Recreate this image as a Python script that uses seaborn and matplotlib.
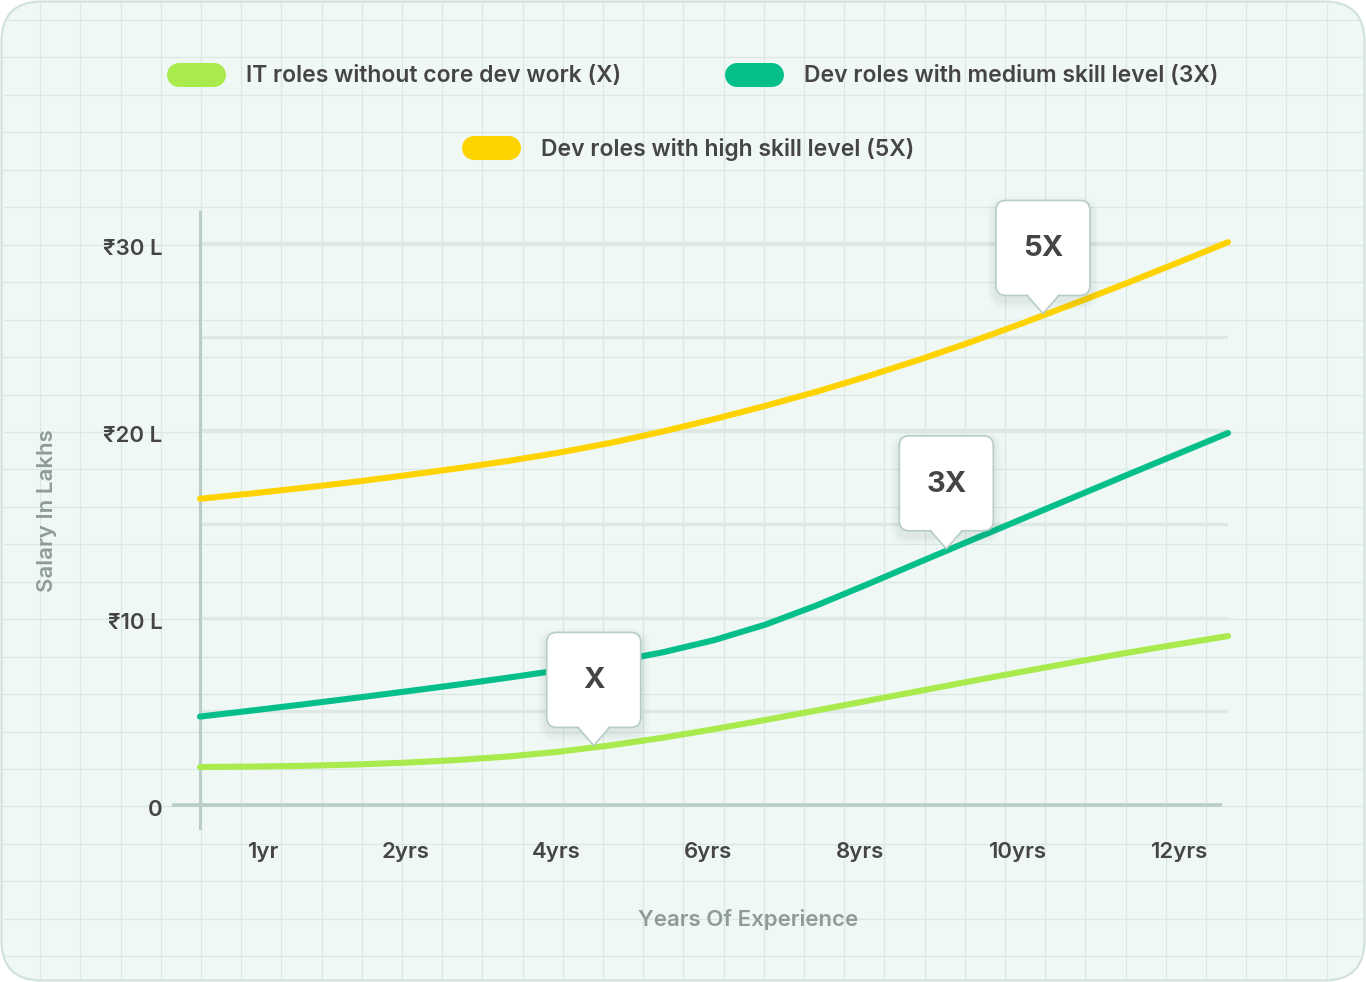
import numpy as np
import pandas as pd
import matplotlib
matplotlib.use("Agg")
import matplotlib.pyplot as plt
import matplotlib.transforms as mtransforms
import seaborn as sns
from matplotlib.patches import FancyBboxPatch, Polygon
from matplotlib.lines import Line2D

# ---------------- data ----------------
series_names = [
    "IT roles without core dev work (X)",
    "Dev roles with medium skill level (3X)",
    "Dev roles with high skill level (5X)",
]
callout_labels = ["X", "3X", "5X"]
series_colors = ["#a9ea4d", "#04bf8a", "#ffd300"]

# position along the x axis (0 = start, 100 = end of the chart)
x_position = [0, 5, 10, 15, 20, 25, 30, 35, 40, 45, 50,
              55, 60, 65, 70, 75, 80, 85, 90, 95, 100]
salary_it = [2.03, 2.05, 2.09, 2.16, 2.26, 2.40, 2.59, 2.85, 3.19, 3.59, 4.05,
             4.54, 5.05, 5.57, 6.09, 6.61, 7.12, 7.62, 8.11, 8.57, 9.02]
salary_medium = [4.72, 5.04, 5.37, 5.71, 6.06, 6.42, 6.80, 7.20, 7.63, 8.15, 8.80,
                 9.63, 10.66, 11.80, 12.97, 14.13, 15.28, 16.43, 17.58, 18.72, 19.86]
salary_high = [16.35, 16.63, 16.93, 17.25, 17.60, 17.97, 18.37, 18.82, 19.34, 19.94, 20.60,
               21.31, 22.07, 22.90, 23.78, 24.72, 25.72, 26.76, 27.83, 28.93, 30.05]

x_tick_positions = [6.2, 20.0, 34.7, 49.4, 64.2, 79.6, 95.3]
x_tick_labels = ["1yr", "2yrs", "4yrs", "6yrs", "8yrs", "10yrs", "12yrs"]
y_tick_values = [0, 10, 20, 30]
y_tick_labels = ["0", "₹10 L", "₹20 L", "₹30 L"]
y_grid_values = [5, 10, 15, 20, 25, 30]
callout_x = [38.3, 72.6, 82.0]

x_title = "Years Of Experience"
y_title = "Salary In Lakhs"

# ---------------- style ----------------
W, H = 1366, 982
sns.set_style("white")
FONT = ["Inter", "DejaVu Sans"]
plt.rcParams["font.family"] = FONT
TEXT = "#454545"
MUTED = "#8e9b97"
AXIS = "#b9cec7"
WEIGHT = "semibold"

fig = plt.figure(figsize=(W / 100, H / 100), dpi=100, facecolor="white")

# background panel with graph-paper grid (pixel coordinates)
bg = fig.add_axes([0, 0, 1, 1], zorder=0)
bg.set_xlim(0, W)
bg.set_ylim(H, 0)
bg.axis("off")
panel = FancyBboxPatch((1.5, 1.5), W - 3, H - 3,
                       boxstyle="round,pad=0,rounding_size=40",
                       fc="#eff8f5", ec="#cfe1da", lw=1.5)
bg.add_patch(panel)
for k in range(1, 34):
    ln = bg.plot([40.2 * k, 40.2 * k], [0, H], color="#dbe8e3", lw=0.9)[0]
    ln.set_clip_path(panel)
for k in range(0, 27):
    y = 20 + 37.45 * k
    ln = bg.plot([0, W], [y, y], color="#dbe8e3", lw=0.9)[0]
    ln.set_clip_path(panel)

# main axes
ax = fig.add_axes([200 / W, (H - 828) / H, 1028 / W, 616 / H], zorder=1)
ax.patch.set_alpha(0)
ax.set_xlim(0, 100)
ax.set_ylim(-1.228, 31.66)

ax.hlines(y_grid_values, 0, 100, color="#dee8e4", lw=2.4, zorder=0)

df = pd.DataFrame({
    "pos": x_position * 3,
    "salary": salary_it + salary_medium + salary_high,
    "series": [series_names[0]] * len(x_position)
              + [series_names[1]] * len(x_position)
              + [series_names[2]] * len(x_position),
})
sns.lineplot(data=df, x="pos", y="salary", hue="series",
             palette=dict(zip(series_names, series_colors)),
             linewidth=4.4, legend=False, ax=ax, zorder=3)
for ln in ax.lines:
    ln.set_solid_joinstyle("round")
    ln.set_clip_on(False)

for s in ["top", "right", "bottom"]:
    ax.spines[s].set_visible(False)
ax.spines["left"].set_color(AXIS)
ax.spines["left"].set_linewidth(2.2)
ax.plot([-0.027, 0.994], [0, 0], color=AXIS, lw=2.6,
        transform=ax.get_yaxis_transform(), clip_on=False, zorder=2,
        solid_capstyle="butt")

ax.set_xticks(x_tick_positions)
ax.set_xticklabels(x_tick_labels, fontsize=16, color=TEXT, fontweight=WEIGHT)
ax.set_yticks(y_tick_values)
ax.set_yticklabels(y_tick_labels, fontsize=16, color=TEXT, fontweight=WEIGHT)
ax.tick_params(axis="x", length=0, pad=10)
ax.tick_params(axis="y", length=0, pad=27)
shift = mtransforms.ScaledTranslation(0, -3.5 / 100, fig.dpi_scale_trans)
for lbl in ax.get_yticklabels():
    lbl.set_transform(lbl.get_transform() + shift)
ax.set_xlabel("")
ax.set_ylabel("")

# overlay for labels, legend and callouts (pixel coordinates)
ov = fig.add_axes([0, 0, 1, 1], zorder=5)
ov.set_xlim(0, W)
ov.set_ylim(H, 0)
ov.axis("off")
ov.patch.set_alpha(0)

ov.text(748, 920, x_title, ha="center", va="center", fontsize=16,
        color=MUTED, fontweight=WEIGHT)
ov.text(47, 511, y_title, ha="center", va="center", fontsize=16,
        color=MUTED, fontweight=WEIGHT, rotation=90)

# legend
legend_spots = [(167, 75), (725, 75), (462, 148)]
for (lx, ly), name, col in zip(legend_spots, series_names, series_colors):
    ov.add_line(Line2D([lx + 12, lx + 47], [ly, ly], color=col, lw=17.3,
                       solid_capstyle="round"))
    ov.text(lx + 79, ly + 1, name, ha="left", va="center", fontsize=16.5,
            color=TEXT, fontweight=WEIGHT)

# callouts
fig.canvas.draw()
series_values = [salary_it, salary_medium, salary_high]
for cx, vals, lab in zip(callout_x, series_values, callout_labels):
    cy = np.interp(cx, x_position, vals)
    dx, dy = ax.transData.transform((cx, cy))
    tx, ty = dx, H - dy - 2
    bw, bh = 94, 95
    bottom = ty - 18
    top = bottom - bh
    left = tx - bw / 2
    for i, a in enumerate([0.035, 0.03, 0.025]):
        e = 3 + 3 * i
        ov.add_patch(FancyBboxPatch((left - e, top - e + 5), bw + 2 * e, bh + 2 * e,
                                    boxstyle="round,pad=0,rounding_size=%d" % (10 + e),
                                    fc="#3a5a50", ec="none", alpha=a))
    ov.add_patch(FancyBboxPatch((left, top), bw, bh,
                                boxstyle="round,pad=0,rounding_size=10",
                                fc="white", ec="#b7cdc6", lw=1.2))
    ov.add_patch(Polygon([(tx - 16, bottom - 2), (tx + 16, bottom - 2), (tx, ty)],
                         closed=True, fc="white", ec="none"))
    ov.add_line(Line2D([tx - 16, tx, tx + 16], [bottom, ty, bottom],
                       color="#b7cdc6", lw=1.2))
    ov.text(tx, top + bh / 2 + 1, lab, ha="center", va="center", fontsize=21,
            fontweight="bold", color=TEXT)

fig.savefig("out.png", dpi=100, facecolor="white")
